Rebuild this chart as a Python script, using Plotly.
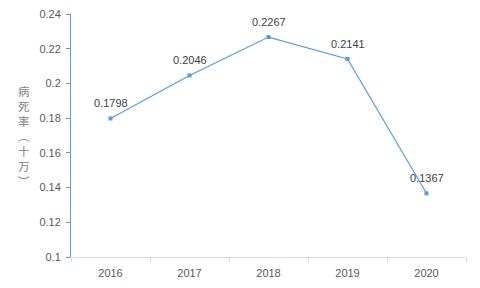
import plotly.graph_objects as go

years = ["2016", "2017", "2018", "2019", "2020"]
rates = [0.1798, 0.2046, 0.2267, 0.2141, 0.1367]
y_title = "病<br>死<br>率<br>︵<br>十<br>万<br>︶"

line_color = "#5B9BD5"
text_color = "#595959"
font_family = "Liberation Sans, Arial, sans-serif"

xpos = list(range(len(years)))

fig = go.Figure()
fig.add_trace(go.Scatter(
    x=xpos, y=rates, mode="lines+markers",
    line=dict(color=line_color, width=1.2),
    marker=dict(symbol="square", size=4, color=line_color),
    hoverinfo="skip",
))
for x, y in zip(xpos, rates):
    fig.add_annotation(x=x, y=y, text=f"{y:.4f}", showarrow=False,
                       yshift=15, font=dict(size=11, color="#404040", family=font_family))

fig.add_annotation(xref="paper", yref="paper", x=-0.118, y=0.5, xanchor="center", yanchor="middle",
                   text=y_title, showarrow=False,
                   font=dict(size=11.5, color="#7f7f7f", family="Noto Sans CJK SC"))

fig.update_layout(
    width=480, height=288,
    margin=dict(l=71, r=14, t=14, b=31),
    paper_bgcolor="white", plot_bgcolor="white",
    showlegend=False,
    font=dict(family=font_family, size=11, color=text_color),
)
fig.update_xaxes(
    range=[-0.5, len(years) - 0.5], tickvals=xpos, ticktext=years,
    ticks="", showline=True, linecolor="#d9d9d9", linewidth=1,
    showgrid=False, zeroline=False, tickfont=dict(size=11, color=text_color),
    ticklabelstandoff=6, automargin=False,
    minor=dict(tickvals=[i - 0.5 for i in range(len(years) + 1)], ticks="outside",
               ticklen=4, tickcolor="#d9d9d9", showgrid=False),
)
fig.update_yaxes(
    range=[0.1, 0.24], tickvals=[0.1, 0.12, 0.14, 0.16, 0.18, 0.2, 0.22, 0.24],
    ticktext=["0.1", "0.12", "0.14", "0.16", "0.18", "0.2", "0.22", "0.24"],
    ticks="outside", ticklen=4, tickcolor=line_color, showline=True,
    linecolor=line_color, linewidth=1, showgrid=False, zeroline=False,
    tickfont=dict(size=11, color=text_color), ticklabelstandoff=3, automargin=False,
)
fig.write_html("out.html")
